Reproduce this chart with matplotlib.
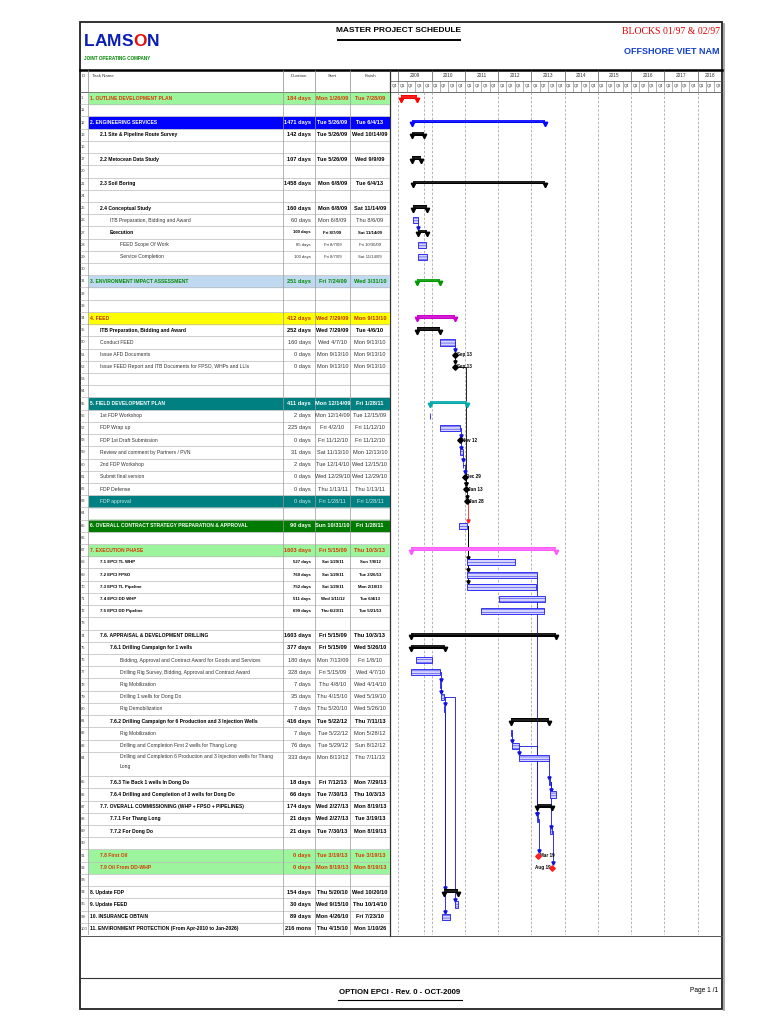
import numpy as np
import matplotlib
matplotlib.use('Agg')
import matplotlib.pyplot as plt
import matplotlib.dates as mdates
from matplotlib.patches import Rectangle
from datetime import datetime

plt.rcParams['font.family'] = ['Liberation Sans', 'DejaVu Sans']
plt.rcParams['hatch.linewidth'] = 0.35

# ---- datos de la tabla ----
row_ids = [1, 11, 12, 13, 16, 17, 20, 21, 24, 25, 26, 27, 28, 29, 30, 31, 32, 33, 34, 35,
           50, 51, 52, 53, 54, 55, 56, 57, 58, 59, 60, 61, 62, 63, 64, 65, 66, 67, 68, 69,
           70, 71, 72, 73, 74, 75, 76, 77, 78, 79, 80, 81, 82, 83, 84, 85, 86, 87, 88, 89,
           90, 91, 92, 93, 94, 95, 99, 100]

task_names = [
    "1. OUTLINE DEVELOPMENT PLAN", "", "2. ENGINEERING SERVICES", "2.1 Site & Pipeline Route Survey", "",
    "2.2 Metocean Data Study", "", "2.3 Soil Boring", "", "2.4 Conceptual Study",
    "ITB Preparation, Bidding and Award", "Execution", "FEED Scope Of Work", "Service Completion", "",
    "3. ENVIRONMENT IMPACT ASSESSMENT", "", "", "4. FEED", "ITB Preparation, Bidding and Award",
    "Conduct FEED", "Issue AFD Documents", "Issue FEED Report and ITB Documents for FPSO, WHPs and LLIs", "", "",
    "5. FIELD DEVELOPMENT PLAN", "1st FDP Workshop", "FDP Wrap up", "FDP 1st Draft Submission",
    "Review and comment by Partners / PVN", "2nd FDP Workshop", "Submit final version", "FDP Defense",
    "FDP approval", "", "6. OVERALL CONTRACT STRATEGY PREPARATION & APPROVAL", "", "7. EXECUTION PHASE",
    "7.1 EPCI TL WHP", "7.2 EPCI FPSO", "7.3 EPCI TL Pipeline", "7.4 EPCI DD WHP", "7.5 EPCI DD Pipeline", "",
    "7.6. APPRAISAL & DEVELOPMENT DRILLING", "7.6.1 Drilling Campaign for 1 wells",
    "Bidding, Approval and Contract Award for Goods and Services",
    "Drilling Rig Survey, Bidding, Approval and Contract Award", "Rig Mobilization",
    "Drilling 1 wells for Dong Do", "Rig Demobilization",
    "7.6.2 Drilling Campaign for 6 Production and 3 Injection Wells", "Rig Mobilization",
    "Drilling and Completion First 2 wells for Thang Long",
    "Drilling and Completion 6 Production and 3 Injection wells for Thang\nLong",
    "7.6.3 Tie Back 1 wells In Dong Do", "7.6.4 Drilling and Completion of 3 wells for Dong Do",
    "7.7. OVERALL COMMISSIONING (WHP + FPSO + PIPELINES)", "7.7.1 For Thang Long", "7.7.2 For Dong Do", "",
    "7.8 First Oil", "7.9 Oil From DD-WHP", "", "8. Update FDP", "9. Update FEED", "10. INSURANCE OBTAIN",
    "11. ENVIRONMENT PROTECTION (From Apr-2010 to Jan-2026)"]

durations = [
    "184 days", "", "1471 days", "142 days", "", "107 days", "", "1458 days", "", "160 days",
    "60 days", "100 days", "85 days", "100 days", "", "251 days", "", "", "412 days", "252 days",
    "160 days", "0 days", "0 days", "", "", "411 days", "2 days", "225 days", "0 days", "31 days",
    "2 days", "0 days", "0 days", "0 days", "", "90 days", "", "1603 days", "527 days", "760 days",
    "752 days", "511 days", "699 days", "", "1603 days", "377 days", "180 days", "328 days", "7 days", "35 days",
    "7 days", "416 days", "7 days", "76 days", "333 days", "18 days", "66 days", "174 days", "21 days", "21 days",
    "", "0 days", "0 days", "", "154 days", "30 days", "89 days", "216 mons"]

start_txt = [
    "Mon 1/26/09", "", "Tue 5/26/09", "Tue 5/26/09", "", "Tue 5/26/09", "", "Mon 6/8/09", "", "Mon 6/8/09",
    "Mon 6/8/09", "Fri 8/7/09", "Fri 8/7/09", "Fri 8/7/09", "", "Fri 7/24/09", "", "", "Wed 7/29/09", "Wed 7/29/09",
    "Wed 4/7/10", "Mon 9/13/10", "Mon 9/13/10", "", "", "Mon 12/14/09", "Mon 12/14/09", "Fri 4/2/10", "Fri 11/12/10", "Sat 11/13/10",
    "Tue 12/14/10", "Wed 12/29/10", "Thu 1/13/11", "Fri 1/28/11", "", "Sun 10/31/10", "", "Fri 5/15/09", "Sat 1/29/11", "Sat 1/29/11",
    "Sat 1/29/11", "Wed 1/11/12", "Thu 6/23/11", "", "Fri 5/15/09", "Fri 5/15/09", "Mon 7/13/09", "Fri 5/15/09", "Thu 4/8/10", "Thu 4/15/10",
    "Thu 5/20/10", "Tue 5/22/12", "Tue 5/22/12", "Tue 5/29/12", "Mon 8/13/12", "Fri 7/12/13", "Tue 7/30/13", "Wed 2/27/13", "Wed 2/27/13", "Tue 7/30/13",
    "", "Tue 3/19/13", "Mon 8/19/13", "", "Thu 5/20/10", "Wed 9/15/10", "Mon 4/26/10", "Thu 4/15/10"]

finish_txt = [
    "Tue 7/28/09", "", "Tue 6/4/13", "Wed 10/14/09", "", "Wed 9/9/09", "", "Tue 6/4/13", "", "Sat 11/14/09",
    "Thu 8/6/09", "Sat 11/14/09", "Fri 10/30/09", "Sat 11/14/09", "", "Wed 3/31/10", "", "", "Mon 9/13/10", "Tue 4/6/10",
    "Mon 9/13/10", "Mon 9/13/10", "Mon 9/13/10", "", "", "Fri 1/28/11", "Tue 12/15/09", "Fri 11/12/10", "Fri 11/12/10", "Mon 12/13/10",
    "Wed 12/15/10", "Wed 12/29/10", "Thu 1/13/11", "Fri 1/28/11", "", "Fri 1/28/11", "", "Thu 10/3/13", "Sun 7/8/12", "Tue 2/26/13",
    "Mon 2/18/13", "Tue 6/4/13", "Tue 5/21/13", "", "Thu 10/3/13", "Wed 5/26/10", "Fri 1/8/10", "Wed 4/7/10", "Wed 4/14/10", "Wed 5/19/10",
    "Wed 5/26/10", "Thu 7/11/13", "Mon 5/28/12", "Sun 8/12/12", "Thu 7/11/13", "Mon 7/29/13", "Thu 10/3/13", "Mon 8/19/13", "Tue 3/19/13", "Mon 8/19/13",
    "", "Tue 3/19/13", "Mon 8/19/13", "", "Wed 10/20/10", "Thu 10/14/10", "Fri 7/23/10", "Mon 1/10/26"]

levels = [0, 0, 0, 1, 0, 1, 0, 1, 0, 1, 2, 2, 3, 3, 0, 0, 0, 0, 0, 1,
          1, 1, 1, 0, 0, 0, 1, 1, 1, 1, 1, 1, 1, 1, 0, 0, 0, 0, 1, 1,
          1, 1, 1, 0, 1, 2, 3, 3, 3, 3, 3, 2, 3, 3, 3, 2, 2, 1, 2, 2,
          0, 1, 1, 0, 0, 0, 0, 0]

bold_ids = {1, 12, 13, 17, 21, 25, 27, 31, 34, 35, 55, 65, 67, 68, 69, 70, 71, 72, 74, 75,
            81, 85, 86, 87, 88, 89, 91, 92, 94, 95, 99, 100}
small_ids = {27, 28, 29, 68, 69, 70, 71, 72}
small_name_ids = {68, 69, 70, 71, 72}
summary_ids = {1, 12, 13, 17, 21, 25, 27, 31, 34, 35, 55, 67, 74, 75, 81, 87, 94}
hidden_bar_ids = {100}

row_bg = {1: '#9CF59C', 12: '#0000FF', 31: '#BFD9F0', 34: '#FFFF00', 55: '#008080',
          63: '#008080', 65: '#007A00', 67: '#9CF59C', 91: '#9CF59C', 92: '#9CF59C'}
row_fg = {1: '#D43A00', 12: 'white', 31: '#008A00', 34: '#B83000', 55: 'white',
          63: '#D0ECEC', 65: 'white', 67: '#D43A00', 91: '#D43A00', 92: '#D43A00'}
sum_color = {1: '#FF0000', 12: '#0000FF', 31: '#009900', 34: '#CC00CC', 55: '#00A8A8', 67: '#FF5CFF'}

# enlaces (predecesora, sucesora, color)
links = [(26, 27, 'b'), (50, 51, 'b'), (51, 52, 'k'), (52, 62, 'k'),
         (57, 58, 'b'), (58, 59, 'b'), (59, 60, 'b'), (60, 61, 'b'), (61, 62, 'k'), (62, 63, 'k'),
         (63, 65, 'r'), (65, 68, 'k'), (65, 69, 'k'), (65, 70, 'k'), (69, 88, 'b'),
         (77, 78, 'b'), (78, 79, 'b'), (79, 80, 'b'), (80, 94, 'b'), (80, 99, 'b'), (79, 95, 'b'),
         (82, 83, 'b'), (83, 84, 'b'), (83, 88, 'b'), (84, 85, 'b'), (85, 86, 'b'), (85, 89, 'b'),
         (88, 91, 'b'), (89, 92, 'b')]
link_colors = {'b': '#1010E0', 'k': 'black', 'r': '#FF2020'}
left_label_ids = {92}
status_date = datetime(2009, 10, 15)

# ---- geometria ----
W, H = 768, 1024
fig = plt.figure(figsize=(W / 100, H / 100), dpi=100)


def px_axes(x0, y0, x1, y1):
    return fig.add_axes([x0 / W, 1 - y1 / H, (x1 - x0) / W, (y1 - y0) / H])


bg = px_axes(0, 0, W, H)
bg.set_xlim(0, W)
bg.set_ylim(H, 0)
bg.axis('off')

heights = [2 if i == 84 else 1 for i in row_ids]
tops = np.concatenate([[0], np.cumsum(heights)[:-1]])
total = sum(heights)
centers = tops + 0.5

tb = px_axes(80, 92, 390, 935)
tb.set_xlim(80, 390)
tb.set_ylim(total, 0)
tb.axis('off')

x0d = mdates.date2num(datetime(2008, 10, 1))
x1d = mdates.date2num(datetime(2018, 9, 27))

gt = px_axes(390, 92, 722, 935)
gt.set_xlim(x0d, x1d)
gt.set_ylim(total, 0)
gt.axis('off')

hd = px_axes(390, 70, 722, 92)
hd.set_xlim(x0d, x1d)
hd.set_ylim(2, 0)
hd.axis('off')

# ---- marco y titulos ----
bg.add_patch(Rectangle((80, 22), 642, 987, fill=False, lw=1.3, ec='#222222'))
bg.plot([723.5, 723.5], [24, 1010], color='#999999', lw=1.2)
bg.plot([80, 722], [70, 70], color='black', lw=1.8)
bg.plot([80, 722], [92, 92], color='#555555', lw=0.6)
bg.plot([80, 722], [935.5, 935.5], color='#555555', lw=0.7)
bg.plot([80, 722], [978, 978], color='#333333', lw=0.8)
bg.plot([390, 390], [70, 935.5], color='#333333', lw=0.9)
for xc in [88, 283, 315, 350]:
    bg.plot([xc, xc], [70, 92], color='#888888', lw=0.5)

bg.text(399, 31, 'MASTER PROJECT SCHEDULE', ha='center', va='center', fontsize=6.0, fontweight='bold')
bg.plot([338, 460], [39.5, 39.5], color='black', lw=1.4)
bg.text(720, 32, 'BLOCKS 01/97 & 02/97', ha='right', va='center', fontsize=7.0, color='#E00000',
        family=['Liberation Serif', 'DejaVu Serif'])
bg.text(720, 52, 'OFFSHORE VIET NAM', ha='right', va='center', fontsize=6.5, fontweight='bold', color='#1240C8')
bg.text(84, 58, 'JOINT OPERATING COMPANY', ha='left', va='center', fontsize=3.3, fontweight='bold', color='#008800')

bg.text(400, 993, 'OPTION EPCI - Rev. 0 - OCT-2009', ha='center', va='center', fontsize=5.6, fontweight='bold')
bg.plot([338, 462], [1000, 1000], color='black', lw=0.8)
bg.text(718, 991, 'Page 1 /1', ha='right', va='center', fontsize=4.8)

hdr_kw = dict(fontsize=3.2, va='center', color='#333333')
bg.text(82, 76, 'ID', ha='left', **hdr_kw)
bg.text(92, 76, 'Task Name', ha='left', **hdr_kw)
bg.text(299, 76, 'Duration', ha='center', **hdr_kw)
bg.text(332, 76, 'Start', ha='center', **hdr_kw)
bg.text(370, 76, 'Finish', ha='center', **hdr_kw)

# logo
fig.canvas.draw()
rend = fig.canvas.get_renderer()
xl = 84
for ch, col in zip('LAMSON', ['#0A1EB4'] * 4 + ['#E01010', '#0A1EB4']):
    t = bg.text(xl, 46, ch, ha='left', va='baseline', fontsize=12.5, fontweight='bold', color=col)
    xl += t.get_window_extent(renderer=rend).width

# ---- tabla ----
tb.hlines(tops[1:], 80, 390, color='#BBBBBB', lw=0.5)
tb.vlines([88, 283, 315, 350], 0, total, color='#999999', lw=0.5)
for k, rid in enumerate(row_ids):
    top, h = tops[k], heights[k]
    if rid in row_bg:
        tb.add_patch(Rectangle((88.5, top + 0.05), 301, h - 0.1, color=row_bg[rid], zorder=0))
    yc = top + 0.5
    tb.text(81, yc, str(rid), fontsize=3.0, va='center', ha='left', color='#444444')
    if not task_names[k]:
        continue
    isb = rid in bold_ids
    fg = row_fg.get(rid, 'black' if isb else '#333333')
    wt = 'bold' if isb else 'normal'
    fs_name = 3.2 if rid in small_name_ids else 3.65
    fs_num = 3.05 if rid in small_ids else 4.05
    xn = 90.5 + 9.7 * levels[k]
    if '\n' in task_names[k]:
        tb.text(xn, top + 0.15, task_names[k], fontsize=fs_name, va='top', ha='left',
                color=fg, fontweight=wt, linespacing=2.3)
    else:
        tb.text(xn, yc, task_names[k], fontsize=fs_name, va='center', ha='left', color=fg, fontweight=wt)
    tb.text(311, yc, durations[k], fontsize=fs_num, va='center', ha='right', color=fg, fontweight=wt)
    tb.text(332.5, yc, start_txt[k], fontsize=fs_num, va='center', ha='center', color=fg, fontweight=wt)
    tb.text(370, yc, finish_txt[k], fontsize=fs_num, va='center', ha='center', color=fg, fontweight=wt)

# ---- cabecera temporal ----
years = list(range(2009, 2019))
year_starts = [mdates.date2num(datetime(y, 1, 1)) for y in years]
qs = [datetime(2008, 10, 1)] + [datetime(y, m, 1) for y in range(2009, 2019) for m in (1, 4, 7, 10)]
qs = [q for q in qs if mdates.date2num(q) < x1d]
qnum = [mdates.date2num(q) for q in qs]
hd.vlines(year_starts, 0, 1, color='#555555', lw=0.5)
hd.vlines(qnum[1:], 1, 2, color='#777777', lw=0.4)
hd.hlines(1, x0d, x1d, color='#555555', lw=0.5)
for y, ys in zip(years, year_starts):
    xe = min(mdates.date2num(datetime(y + 1, 1, 1)), x1d)
    hd.text((ys + xe) / 2, 0.5, str(y), ha='center', va='center', fontsize=3.4, color='#333333')
for q, qn in zip(qs, qnum):
    hd.text(qn + 45.6, 1.5, 'Q%d' % ((q.month - 1) // 3 + 1), ha='center', va='center',
            fontsize=2.9, color='#333333')

# ---- gantt ----
gt.vlines(year_starts, 0, total, color='#AAAAAA', lw=0.6, linestyles=(0, (3, 2)))
gt.vlines(mdates.date2num(status_date), 0, total, color='#AAAAAA', lw=0.6, linestyles=(0, (3, 2)))


def pdate(s):
    return datetime.strptime(s.split()[1], '%m/%d/%y')


info = {}
for k, rid in enumerate(row_ids):
    if not start_txt[k] or rid in hidden_bar_ids:
        continue
    s = mdates.date2num(pdate(start_txt[k]))
    e = mdates.date2num(pdate(finish_txt[k])) + 1
    kind = 'ms' if durations[k] == '0 days' else ('sum' if rid in summary_ids else 'task')
    if kind == 'ms':
        e = s
    info[rid] = (s, e, centers[k], kind)

for rid, (s, e, yc, kind) in info.items():
    if kind == 'sum':
        c = sum_color.get(rid, 'black')
        gt.barh(yc - 0.08, e - s, left=s, height=0.3, color=c, zorder=3)
        gt.hlines(yc - 0.12, s, e, color='white', lw=0.35, alpha=0.5, zorder=3)
        gt.plot([s, e], [yc + 0.12, yc + 0.12], ls='none', marker='v', ms=3.2, color=c, zorder=3)
    elif kind == 'task':
        gt.barh(yc, max(e - s, 3), left=s, height=0.5, facecolor='#D4D4FF', edgecolor='#1A1AF0',
                hatch='------', lw=0.6, zorder=3)
    else:
        red = rid in (91, 92)
        gt.plot(s, yc, marker='D', ms=2.8, color='#FF2020' if red else 'black', zorder=4)
        d = mdates.num2date(s)
        lab = '%s %d' % (d.strftime('%b'), d.day)
        if rid in left_label_ids:
            gt.text(s - 20, yc, lab, ha='right', va='center', fontsize=3.3, fontweight='bold')
        else:
            gt.text(s + 20, yc, lab, ha='left', va='center', fontsize=3.3, fontweight='bold')

for p, q, c in links:
    ps, pe, py, _ = info[p]
    qs_, qe, qy, _ = info[q]
    xm = max(qs_, pe + 3)
    col = link_colors[c]
    gt.plot([pe, xm, xm], [py, py, qy - 0.35], color=col, lw=0.6, zorder=2)
    gt.plot(xm, qy - 0.38, marker='v', ms=2.3, color=col, zorder=2)

fig.savefig('out.png', dpi=100)
